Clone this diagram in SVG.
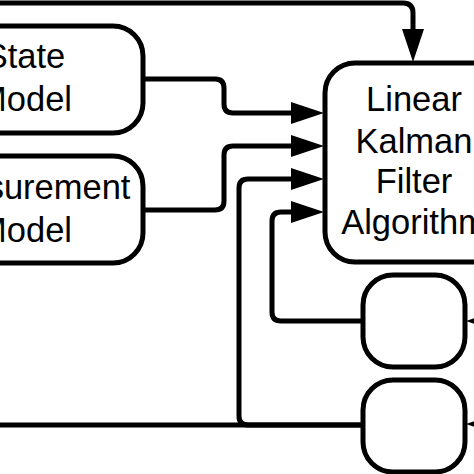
<svg xmlns="http://www.w3.org/2000/svg" width="474" height="474" viewBox="0 0 474 474">
<defs>
<marker id="ah" markerUnits="userSpaceOnUse" markerWidth="34" markerHeight="24" viewBox="0 -12 34 24" refX="0" refY="0" orient="auto" overflow="visible">
<path d="M0,-11 L33,0 L0,11 Z" fill="#000"/>
</marker>
</defs>
<style>
.box{fill:#fff;stroke:#000;stroke-width:5}
.conn{fill:none;stroke:#000;stroke-width:5}
.lbl{font-family:"Liberation Sans",Arial,sans-serif;font-size:34.5px;fill:#000;text-anchor:middle}
</style>
<rect width="474" height="474" fill="#fff"/>
<g id="connectors">
<path class="conn" d="M0,3 H403 Q413,3 413,13 V29" marker-end="url(#ah)"/>
<path class="conn" d="M143,79 H215 Q224,79 224,88 V104 Q224,113 233,113 H291" marker-end="url(#ah)"/>
<path class="conn" d="M143,210 H215 Q224,210 224,201 V155 Q224,146 233,146 H291" marker-end="url(#ah)"/>
<path class="conn" d="M362,425 H0"/>
<path class="conn" d="M362,425 H248 Q239,425 239,416 V188 Q239,179 248,179 H291" marker-end="url(#ah)"/>
<path class="conn" d="M362,321 H281 Q272,321 272,312 V221 Q272,212 281,212 H291" marker-end="url(#ah)"/>
<path class="conn" d="M530,321 H499" marker-end="url(#ah)"/>
<path class="conn" d="M530,424 H499" marker-end="url(#ah)"/>
</g>
<g id="state-model">
<rect class="box" x="-90" y="26" width="233" height="107" rx="30"/>
<text class="lbl" x="25" y="68">State</text>
<text class="lbl" x="25" y="111">Model</text>
</g>
<g id="measurement-model">
<rect class="box" x="-90" y="156" width="233" height="107" rx="30"/>
<text class="lbl" x="25" y="199">Measurement</text>
<text class="lbl" x="25" y="242">Model</text>
</g>
<g id="kalman-filter">
<rect class="box" x="325" y="63" width="220" height="199" rx="30"/>
<text class="lbl" x="414" y="111">Linear</text>
<text class="lbl" x="414" y="153">Kalman</text>
<text class="lbl" x="414" y="193">Filter</text>
<text class="lbl" x="414" y="234">Algorithm</text>
</g>
<g id="box-1">
<rect class="box" x="363" y="275" width="102" height="92" rx="30"/>
</g>
<g id="box-2">
<rect class="box" x="363" y="380" width="102" height="92" rx="30"/>
</g>
</svg>
